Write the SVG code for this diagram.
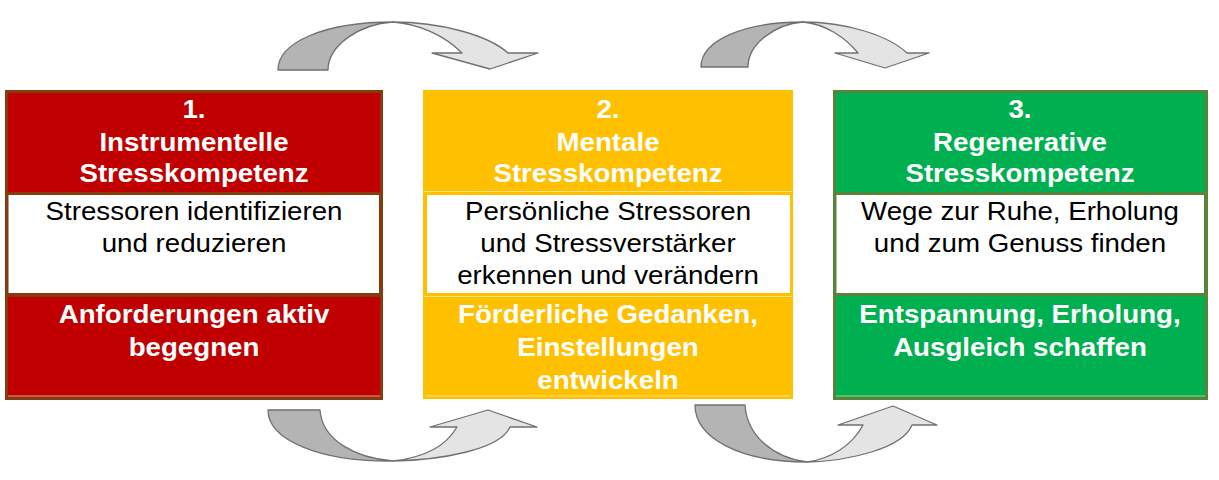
<svg xmlns="http://www.w3.org/2000/svg" width="1219" height="480" viewBox="0 0 1219 480">
<style>
  text { font-family: "Liberation Sans", Arial, sans-serif; font-size: 26px; text-anchor: middle; }
  .hd { fill: #FFFFFF; font-weight: bold; }
  .bd { fill: #000000; }
  .dk { fill: #B4B4B4; stroke: #707070; stroke-width: 1.3; stroke-linejoin: round; }
  .lt { fill: #E4E4E4; stroke: #707070; stroke-width: 1.3; stroke-linejoin: round; }
</style>
<rect x="0" y="0" width="1219" height="480" fill="#FFFFFF"/>

<g id="connectors">
  <g id="arrow-top-1">
    <path class="dk" d="M278,70 C278,42 325,22 393,22 C360,24 328,45 328,70 Z"/>
    <path class="lt" d="M393,22 C440,22 488,35 508,53 L538,53 L490,69 L432,53 L462,53 C445,36 420,24 393,22 Z"/>
  </g>
  <g id="arrow-bottom-1">
    <path class="dk" d="M268,410 L320,410 C322,440 355,458 393,461 C320,462 268,440 268,410 Z"/>
    <path class="lt" d="M393,461 C440,460 500,450 510,427 L537,427 L488,410 L430,427 L457,427 C445,448 420,458 393,461 Z"/>
  </g>
  <g id="arrow-top-2">
    <path class="dk" d="M701,67 C701,40 745,22 803,22 C775,24 748,44 748,67 Z"/>
    <path class="lt" d="M803,22 C845,22 888,35 907,53 L929,53 L885,68 L835,53 L858,53 C845,37 825,24 803,22 Z"/>
  </g>
  <g id="arrow-bottom-2">
    <path class="dk" d="M695,405 L745,405 C747,437 775,458 807,462 C740,462 695,438 695,405 Z"/>
    <path class="lt" d="M807,462 C850,461 903,448 912,425 L937,425 L893,406 L838,425 L863,425 C852,446 830,459 807,462 Z"/>
  </g>
</g>

<g id="node1">
  <rect x="6.5" y="91.5" width="375" height="307" fill="#C00000" stroke="#843C0C" stroke-width="3"/>
  <rect x="5" y="192" width="378" height="105" fill="#843C0C"/>
  <rect x="8.5" y="195" width="370.5" height="98" fill="#FFFFFF"/>
  <line x1="8" y1="396" x2="380" y2="396" stroke="#D9A99A" stroke-width="1"/>
  <g transform="translate(194,0) scale(1.065,1)">
    <text class="hd" x="0" y="118">1.</text>
    <text class="hd" x="0" y="151">Instrumentelle</text>
    <text class="hd" x="0" y="182">Stresskompetenz</text>
    <text class="bd" x="0" y="220">Stressoren identifizieren</text>
    <text class="bd" x="0" y="252">und reduzieren</text>
    <text class="hd" x="0" y="323">Anforderungen aktiv</text>
    <text class="hd" x="0" y="356">begegnen</text>
  </g>
</g>

<g id="node2">
  <rect x="423" y="90" width="370" height="309" fill="#FFC000"/>
  <line x1="424" y1="191.5" x2="792" y2="191.5" stroke="#FFE08A" stroke-width="1"/>
  <line x1="424" y1="296.5" x2="792" y2="296.5" stroke="#FFE08A" stroke-width="1"/>
  <line x1="426" y1="396" x2="790" y2="396" stroke="#FFE08A" stroke-width="1"/>
  <rect x="427" y="195" width="363" height="98" fill="#FFFFFF"/>
  <g transform="translate(608,0) scale(1.065,1)">
    <text class="hd" x="0" y="118">2.</text>
    <text class="hd" x="0" y="151">Mentale</text>
    <text class="hd" x="0" y="182">Stresskompetenz</text>
    <text class="bd" x="0" y="220">Persönliche Stressoren</text>
    <text class="bd" x="0" y="252">und Stressverstärker</text>
    <text class="bd" x="0" y="284">erkennen und verändern</text>
    <text class="hd" x="0" y="323">Förderliche Gedanken,</text>
    <text class="hd" x="0" y="356">Einstellungen</text>
    <text class="hd" x="0" y="389">entwickeln</text>
  </g>
</g>

<g id="node3">
  <rect x="834.5" y="91.5" width="372" height="307" fill="#00B050" stroke="#5A833A" stroke-width="3"/>
  <rect x="833" y="192" width="375" height="104" fill="#5A833A"/>
  <rect x="836.5" y="195" width="367.5" height="98" fill="#FFFFFF"/>
  <line x1="836" y1="396" x2="1205" y2="396" stroke="#A9D08E" stroke-width="1"/>
  <g transform="translate(1020,0) scale(1.065,1)">
    <text class="hd" x="0" y="118">3.</text>
    <text class="hd" x="0" y="151">Regenerative</text>
    <text class="hd" x="0" y="182">Stresskompetenz</text>
    <text class="bd" x="0" y="220">Wege zur Ruhe, Erholung</text>
    <text class="bd" x="0" y="252">und zum Genuss finden</text>
    <text class="hd" x="0" y="323">Entspannung, Erholung,</text>
    <text class="hd" x="0" y="356">Ausgleich schaffen</text>
  </g>
</g>
</svg>
